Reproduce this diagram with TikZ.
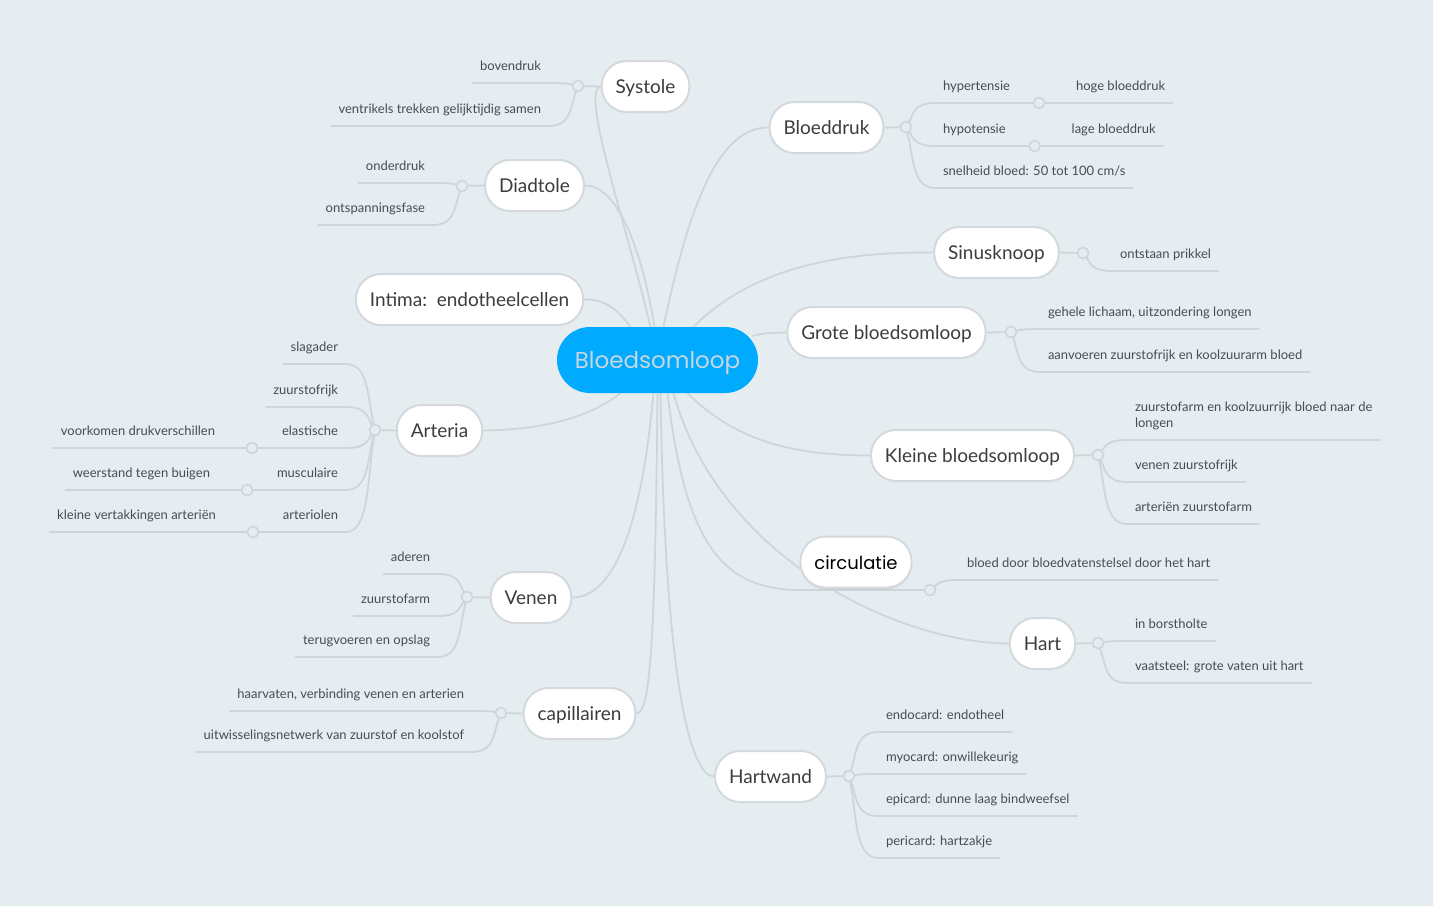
\documentclass[tikz,border=0pt]{standalone}
\usepackage{fontspec}
\setmainfont{Lato}
\newfontfamily\rootfont{Poppins}
\usetikzlibrary{calc,shadows,backgrounds}

\definecolor{bgcol}{HTML}{E6EDF1}
\definecolor{linecol}{HTML}{CFD6DA}
\definecolor{rimcol}{HTML}{D3D9DD}
\definecolor{leaftext}{HTML}{474C50}
\definecolor{branchtext}{HTML}{3A3D40}
\definecolor{rootfill}{HTML}{00AAFF}
\definecolor{roottext}{HTML}{C8D6E0}

\tikzset{
  link/.style={draw=linecol, line width=1.8pt},
  root/.style={fill=rootfill, rounded corners=33pt, minimum height=66pt, minimum width=201pt,
    text=roottext, text height=17pt, text depth=0pt, font=\rootfont\fontsize{23}{26}\selectfont},
  branch/.style={draw=rimcol, line width=2pt, fill=white, rounded corners=25pt, minimum height=51pt,
    inner xsep=14pt, text=branchtext, text height=14pt, text depth=0pt, font=\fontsize{19}{22}\selectfont},
  leaf/.style={font=\fontsize{13}{16}\selectfont, text=leaftext, inner xsep=8pt, inner ysep=13pt,
    text depth=0pt, outer sep=0pt},
  hub/.style={circle, draw=linecol, line width=1.6pt, fill=bgcol, minimum size=11pt, inner sep=0pt},
}

% twig from a hub to the underline of a leaf
\newcommand\twigR[2]{\draw[link] let \p1=(#1), \p2=(#2.south west) in
  (\p1) .. controls (\x1+8pt,{\y1+0.45*(\y2-\y1)}) and (\x1+5pt,\y2) .. (\p2) -- (#2.south east);}
\newcommand\twigL[2]{\draw[link] let \p1=(#1), \p2=(#2.south east) in
  (\p1) .. controls (\x1-8pt,{\y1+0.45*(\y2-\y1)}) and (\x1-5pt,\y2) .. (\p2) -- (#2.south west);}

\begin{document}
\begin{tikzpicture}[x=1pt,y=-1pt]
\useasboundingbox (0,0) rectangle (1433,906);

% root and main branches
\node[root] (root) at (657.5,360) {Bloedsomloop};
\node[branch] (sys) at (645.5,86.5) {Systole};
\node[branch] (dia) at (534.5,185.5) {Diadtole};
\node[branch] (int) at (469.5,299.5) {Intima:\ \ endotheelcellen};
\node[branch] (art) at (439.5,430.5) {Arteria};
\node[branch] (ven) at (531,597.5) {Venen};
\node[branch] (cap) at (579.5,713.5) {capillairen};
\node[branch] (bd) at (826.5,127.5) {Bloeddruk};
\node[branch] (sk) at (996.5,252.5) {Sinusknoop};
\node[branch] (gb) at (886.5,332.5) {Grote bloedsomloop};
\node[branch] (kb) at (972.5,455.5) {Kleine bloedsomloop};
\node[branch] (hart) at (1042.5,643.5) {Hart};
\node[branch] (hw) at (770.5,776.5) {Hartwand};

% hubs
\node[hub] (hS) at (578,86) {};
\node[hub] (hD) at (462,186) {};
\node[hub] (hA) at (375,430) {};
\node[hub] (hV) at (467,597) {};
\node[hub] (hC) at (501,713) {};
\node[hub] (hB) at (906,127) {};
\node[hub] (hK) at (1083,253) {};
\node[hub] (hG) at (1011,332) {};
\node[hub] (hL) at (1098,455) {};
\node[hub] (hR) at (930,590) {};
\node[hub] (hH) at (1098,643) {};
\node[hub] (hW) at (849,776) {};

% leaves, left side
\node[leaf, anchor=south east] (sysA) at (549,83) {bovendruk};
\node[leaf, anchor=south east] (sysB) at (549,126) {ventrikels trekken gelijktijdig samen};
\node[leaf, anchor=south east] (diaA) at (433,183) {onderdruk};
\node[leaf, anchor=south east] (diaB) at (433,225) {ontspanningsfase};
\node[leaf, anchor=south east] (artA) at (346,364) {slagader};
\node[leaf, anchor=south east] (artB) at (346,407) {zuurstofrijk};
\node[leaf, anchor=south east] (artC) at (346,448) {elastische};
\node[leaf, anchor=south east] (artD) at (346,490) {musculaire};
\node[leaf, anchor=south east] (artE) at (346,532) {arteriolen};
\node[hub] (hAC) at ([xshift=-22pt]artC.south west) {};
\node[hub] (hAD) at ([xshift=-22pt]artD.south west) {};
\node[hub] (hAE) at ([xshift=-22pt]artE.south west) {};
\node[leaf, anchor=south east] (artC1) at ([xshift=-29pt]hAC.center) {voorkomen drukverschillen};
\node[leaf, anchor=south east] (artD1) at ([xshift=-29pt]hAD.center) {weerstand tegen buigen};
\node[leaf, anchor=south east] (artE1) at ([xshift=-29pt]hAE.center) {kleine vertakkingen arteriën};
\node[leaf, anchor=south east] (venA) at (438,574) {aderen};
\node[leaf, anchor=south east] (venB) at (438,616) {zuurstofarm};
\node[leaf, anchor=south east] (venC) at (438,657) {terugvoeren en opslag};
\node[leaf, anchor=south east] (capA) at (472,711) {haarvaten, verbinding venen en arterien};
\node[leaf, anchor=south east] (capB) at (472,752) {uitwisselingsnetwerk van zuurstof en koolstof};

% leaves, right side
\node[leaf, anchor=south west] (bdA) at (935,103) {hypertensie};
\node[leaf, anchor=south west] (bdB) at (935,146) {hypotensie};
\node[leaf, anchor=south west] (bdC) at (935,188) {snelheid bloed: 50 tot 100 cm/s};
\node[hub] (hBA) at ([xshift=21pt]bdA.south east) {};
\node[hub] (hBB) at ([xshift=21pt]bdB.south east) {};
\node[leaf, anchor=south west] (bdA1) at ([xshift=29pt]hBA.center) {hoge bloeddruk};
\node[leaf, anchor=south west] (bdB1) at ([xshift=29pt]hBB.center) {lage bloeddruk};
\node[leaf, anchor=south west] (skA) at (1112,271) {ontstaan prikkel};
\node[leaf, anchor=south west] (gbA) at (1040,329) {gehele lichaam, uitzondering longen};
\node[leaf, anchor=south west] (gbB) at (1040,372) {aanvoeren zuurstofrijk en koolzuurarm bloed};
\node[leaf, anchor=south west, align=left] (kbA) at (1127,440) {zuurstofarm en koolzuurrijk bloed naar de\\longen};
\node[leaf, anchor=south west] (kbB) at (1127,482) {venen zuurstofrijk};
\node[leaf, anchor=south west] (kbC) at (1127,524) {arteriën zuurstofarm};
\node[leaf, anchor=south west] (crA) at (959,580) {bloed door bloedvatenstelsel door het hart};
\node[leaf, anchor=south west] (htA) at (1127,641) {in borstholte};
\node[leaf, anchor=south west] (htB) at (1127,683) {vaatsteel: grote vaten uit hart};
\node[leaf, anchor=south west] (hwA) at (878,732) {endocard: endotheel};
\node[leaf, anchor=south west] (hwB) at (878,774) {myocard: onwillekeurig};
\node[leaf, anchor=south west] (hwC) at (878,816) {epicard: dunne laag bindweefsel};
\node[leaf, anchor=south west] (hwD) at (878,858) {pericard: hartzakje};

\coordinate (cirfoot) at (800,590);
\node[branch, text=black, font=\rootfont\fontsize{18}{21}\selectfont,
  drop shadow={opacity=0.18, shadow xshift=0pt, shadow yshift=-2pt}] (cir) at (856,562) {circulatie};

\begin{scope}[on background layer]
\fill[bgcol] (0,0) rectangle (1433,906);

% main connectors
\draw[link] ([xshift=-7pt]root.north) .. controls (625,220) and (580,90) .. (sys.west);
\draw[link] ([xshift=-3pt]root.north) .. controls (640,240) and (615,185) .. (dia.east);
\draw[link] ([xshift=-27pt]root.north) .. controls (615,305) and (600,299) .. (int.east);
\draw[link] ([xshift=6pt]root.north) .. controls (690,200) and (720,127) .. (bd.west);
\draw[link] ([xshift=36pt]root.north) .. controls (760,260) and (860,252) .. (sk.west);
\draw[link] ([xshift=-6pt,yshift=24pt]root.east) .. controls (765,333) .. (gb.west);
\draw[link] ([xshift=30pt]root.south) .. controls (740,445) and (800,455) .. (kb.west);
\draw[link] ([xshift=10pt]root.south) .. controls (685,540) and (720,590) .. (cirfoot) -- (hR);
\draw[link] ([xshift=16pt]root.south) .. controls (720,560) and (900,643) .. (hart.west);
\draw[link] ([xshift=3pt]root.south) .. controls (665,680) and (690,776) .. (hw.west);
\draw[link] (root.south) .. controls (655,650) and (650,713) .. (cap.east);
\draw[link] ([xshift=-4pt]root.south) .. controls (640,540) and (610,597) .. (ven.east);
\draw[link] ([xshift=-37pt]root.south) .. controls (580,425) and (520,430) .. (art.east);

% stubs to hubs
\draw[link] (sys.west) -- (hS);
\draw[link] (dia.west) -- (hD);
\draw[link] (art.west) -- (hA);
\draw[link] (ven.west) -- (hV);
\draw[link] (cap.west) -- (hC);
\draw[link] (bd.east) -- (hB);
\draw[link] (sk.east) -- (hK);
\draw[link] (gb.east) -- (hG);
\draw[link] (kb.east) -- (hL);
\draw[link] (hart.east) -- (hH);
\draw[link] (hw.east) -- (hW);

% twigs
\twigL{hS}{sysA} \twigL{hS}{sysB}
\twigL{hD}{diaA} \twigL{hD}{diaB}
\twigL{hA}{artA} \twigL{hA}{artB} \twigL{hA}{artC} \twigL{hA}{artD} \twigL{hA}{artE}
\draw[link] (artC.south west) -- (hAC);
\draw[link] (artD.south west) -- (hAD);
\draw[link] (artE.south west) -- (hAE);
\twigL{hAC}{artC1} \twigL{hAD}{artD1} \twigL{hAE}{artE1}
\twigL{hV}{venA} \twigL{hV}{venB} \twigL{hV}{venC}
\twigL{hC}{capA} \twigL{hC}{capB}
\twigR{hB}{bdA} \twigR{hB}{bdB} \twigR{hB}{bdC}
\draw[link] (bdA.south east) -- (hBA);
\draw[link] (bdB.south east) -- (hBB);
\twigR{hBA}{bdA1} \twigR{hBB}{bdB1}
\twigR{hK}{skA}
\twigR{hG}{gbA} \twigR{hG}{gbB}
\twigR{hL}{kbA} \twigR{hL}{kbB} \twigR{hL}{kbC}
\twigR{hR}{crA}
\twigR{hH}{htA} \twigR{hH}{htB}
\twigR{hW}{hwA} \twigR{hW}{hwB} \twigR{hW}{hwC} \twigR{hW}{hwD}
\end{scope}
\end{tikzpicture}
\end{document}
